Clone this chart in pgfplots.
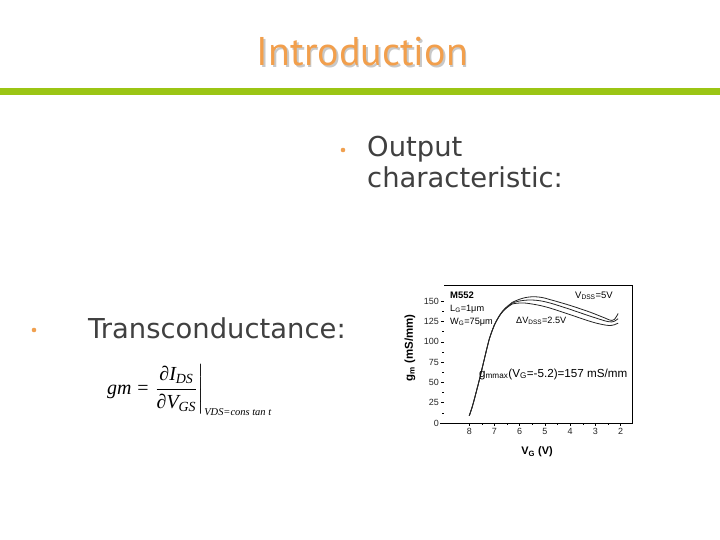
\documentclass[border=0pt]{standalone}
\usepackage{amsmath}
\usepackage{pgfplots}
\pgfplotsset{compat=1.18}
\usepackage{pgfplotstable}
\usepackage{graphicx}
\usepackage{fontspec}
\setmainfont{DejaVu Sans}
\newfontfamily\chartfont{Liberation Sans}
\newfontfamily\titlefont{PT Sans}
\newfontfamily\tnr{Liberation Serif}
\definecolor{titleor}{RGB}{242,159,76}
\definecolor{titlesh}{RGB}{200,200,200}
\definecolor{barg}{RGB}{155,197,20}
\definecolor{txt}{RGB}{64,64,64}
\definecolor{bul}{RGB}{240,160,80}
\pgfplotstableread{
x y
8.0 9
7.9 18
7.8 29
7.7 41
7.6 53
7.5 66
7.4 79
7.3 92
7.2 104
7.1 113
7.0 121
6.9 127
6.8 132.5
6.7 137
6.6 140.5
6.5 143.5
6.4 146
6.3 148.5
6.2 150
6.0 152.5
5.8 154.3
5.6 155.3
5.4 155.5
5.2 155
5.0 153.8
4.8 152
4.6 150.3
4.4 148.5
4.2 146.7
4.0 144.8
3.8 142.8
3.6 140.7
3.4 138.6
3.2 136.4
3.0 134
2.8 131.5
2.6 129
2.45 127
2.35 126.3
2.25 127.5
2.15 132
2.1 135
}\topcurve
\pgfplotstableread{
x y
8.0 9
7.9 18
7.8 29
7.7 41
7.6 53
7.5 66
7.4 79
7.3 92
7.2 104
7.1 113
7.0 121
6.9 127
6.8 132.3
6.7 136.6
6.6 140
6.5 142.8
6.4 145.2
6.3 147.5
6.2 148.8
6.0 150.3
5.8 151.2
5.6 151.5
5.4 151.3
5.2 150.6
5.0 149.4
4.8 147.8
4.6 146
4.4 144
4.2 142
4.0 140
3.8 137.8
3.6 135.7
3.4 133.6
3.2 131.5
3.0 129.5
2.8 127.5
2.6 125.6
2.45 124.7
2.35 124.5
2.25 125.3
2.15 127.3
2.1 128.5
}\midcurve
\pgfplotstableread{
x y
8.0 9
7.9 18
7.8 29
7.7 41
7.6 53
7.5 66
7.4 79
7.3 92
7.2 104
7.1 113
7.0 121
6.9 127
6.8 132
6.7 136.2
6.6 139.5
6.5 142.2
6.4 144.5
6.3 146.5
6.2 147.2
6.0 147.8
5.8 147.8
5.6 147
5.4 146
5.2 144.8
5.0 143.3
4.8 141.6
4.6 139.6
4.4 137.6
4.2 135.5
4.0 133.4
3.8 131.3
3.6 129.2
3.4 127.1
3.2 125.1
3.0 123.3
2.8 121.8
2.6 120.6
2.45 120.1
2.35 120.3
2.25 121
2.15 122.3
2.1 123
}\botcurve
\begin{document}
\begin{tikzpicture}[x=1bp,y=1bp]
\fill[white] (0,0) rectangle (720,540);
\useasboundingbox (0,0) rectangle (720,540);
% title
\node[anchor=base, inner sep=0, text=titlesh] at (364.2,540-67.6) {\resizebox{211bp}{!}{\titlefont Introduction}};
\node[anchor=base, inner sep=0, text=titleor] at (362.5,540-66) {\resizebox{211bp}{!}{\titlefont Introduction}};
% green bar
\fill[barg] (0,540-95) rectangle (720,540-88.3);
% bullets and texts
\fill[bul] (343,540-150) circle (2.3);
\fill[bul] (34,540-330) circle (2.3);
\node[anchor=base west, inner sep=0, text=txt] at (367,540-157) {\fontsize{27.5}{31}\selectfont Output};
\node[anchor=base west, inner sep=0, text=txt] at (367,540-188) {\fontsize{27.5}{31}\selectfont characteristic:};
\node[anchor=base west, inner sep=0, text=txt] at (88,540-339) {\fontsize{27.5}{31}\selectfont Transconductance:};
% formula
\node[anchor=west, inner sep=0] at (107,540-390) {\fontsize{20}{24}\selectfont $\text{\tnr\itshape gm}\mathrel{\text{\tnr =}}\left.\dfrac{\text{\tnr ∂\itshape I}_{\text{\tnr\itshape DS}}}{\text{\tnr ∂\itshape V}_{\text{\tnr\itshape GS}}}\right|_{\text{\tnr\itshape\fontsize{10.5}{11}\selectfont VDS=cons tan t}}$};
% chart
\begin{axis}[at={(444bp,117bp)}, anchor=south west,
  width=188bp, height=138bp, scale only axis,
  xmin=1.55, xmax=9, x dir=reverse, ymin=0, ymax=170,
  xtick={2,3,4,5,6,7,8}, ytick={0,25,50,75,100,125,150},
  minor x tick num=1, minor y tick num=1,
  tick align=outside, xtick pos=left, ytick pos=left,
  major tick length=3bp, minor tick length=2bp,
  tick style={black, line width=0.5bp},
  axis line style={draw=none},
  clip=false,
  /pgf/number format/assume math mode=true,
  ticklabel style={font=\chartfont\fontsize{9}{10}\selectfont, text=black!85},
  xticklabel style={inner sep=2bp},
  yticklabel style={inner sep=2bp},
]
\draw[black, line width=0.7bp] (rel axis cs:-0.022,0) -- (rel axis cs:1,0) -- (rel axis cs:1,1) -- (rel axis cs:0,1);
\addplot[black!85, line width=0.8bp, smooth, tension=0.4] table[x=x,y=y] {\topcurve};
\addplot[black!85, line width=0.8bp, smooth, tension=0.4] table[x=x,y=y] {\midcurve};
\addplot[black!85, line width=0.8bp, smooth, tension=0.4] table[x=x,y=y] {\botcurve};
\end{axis}
% chart texts
\node[anchor=west, inner sep=0] at (450,540-295) {\chartfont\fontsize{9.5}{11}\selectfont\bfseries M552};
\node[anchor=west, inner sep=0] at (450,540-309) {\chartfont\fontsize{9.2}{11}\selectfont L\textsubscript{G}=1μm};
\node[anchor=west, inner sep=0] at (450,540-322) {\chartfont\fontsize{9.2}{11}\selectfont W\textsubscript{G}=75μm};
\node[anchor=west, inner sep=0] at (575,540-296) {\chartfont\fontsize{9.5}{11}\selectfont V\textsubscript{DSS}=5V};
\node[anchor=west, inner sep=0] at (516,540-321) {\chartfont\fontsize{9.2}{11}\selectfont ΔV\textsubscript{DSS}=2.5V};
\node[anchor=west, inner sep=0] at (479,540-374) {\chartfont\fontsize{11.7}{13}\selectfont g\textsubscript{mmax}(V\textsubscript{G}=-5.2)=157 mS/mm};
\node[rotate=90, inner sep=0] at (410,540-348) {\chartfont\fontsize{11.5}{13}\selectfont\bfseries g\textsubscript{m} (mS/mm)};
\node[inner sep=0] at (537,540-452) {\chartfont\fontsize{11}{13}\selectfont\bfseries V\textsubscript{G} (V)};
\end{tikzpicture}
\end{document}
